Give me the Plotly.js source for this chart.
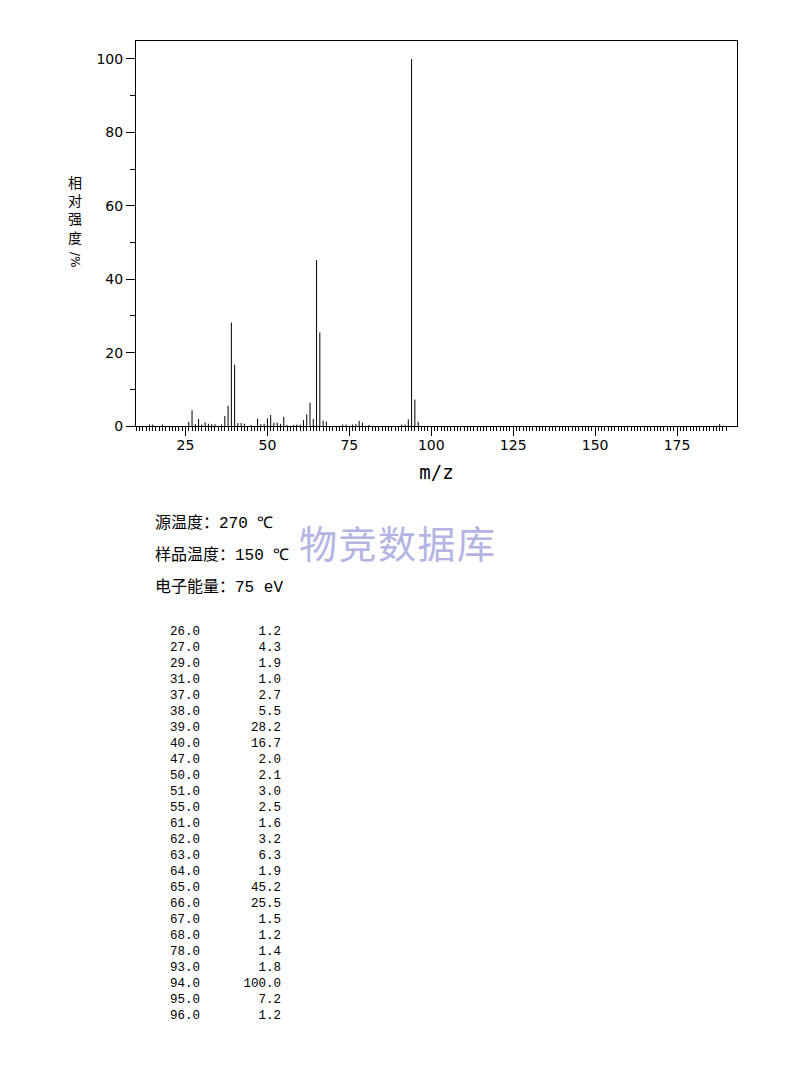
<!DOCTYPE html>
<html>
<head>
<meta charset="utf-8">
<script src="https://cdn.plot.ly/plotly-3.0.1.min.js"></script>
<style>
  html, body { margin: 0; padding: 0; background: #fff; }
  #wrap { position: relative; width: 794px; height: 1077px; overflow: hidden; }
  #chart { position: absolute; left: 0; top: 0; width: 794px; height: 500px; }
  .info { position: absolute; left: 155px; font-family: "Noto Sans CJK SC", "Liberation Mono", monospace; font-size: 16px; color: #000; white-space: pre; line-height: 20px; }
  .info .num { font-family: "Liberation Mono", monospace; }
  #wm { position: absolute; left: 299px; top: 514px; font-family: "Noto Sans CJK SC", sans-serif; font-size: 38px; color: #b4b4e4; letter-spacing: 1.5px; white-space: nowrap; }
  .row { position: absolute; font-family: "Liberation Mono", "DejaVu Sans Mono", monospace; font-size: 12.5px; color: #000; text-align: right; line-height: 14px; }
</style>
</head>
<body>
<div id="wrap">
  <div id="chart"></div>
  <div id="wm">物竞数据库</div>
  <div class="info" style="top:511px;">源温度：<span class="num">270 ℃</span></div>
  <div class="info" style="top:543px;">样品温度：<span class="num">150 ℃</span></div>
  <div class="info" style="top:575px;">电子能量：<span class="num">75 eV</span></div>
  <div id="table"></div>
</div>
<script>
// Peaks listed in the table (m/z, relative intensity %)
const mzTable  = [26, 27, 29, 31, 37, 38, 39, 40, 47, 50, 51, 55, 61, 62, 63, 64, 65, 66, 67, 68, 78, 93, 94, 95, 96];
const intTable = [1.2, 4.3, 1.9, 1.0, 2.7, 5.5, 28.2, 16.7, 2.0, 2.1, 3.0, 2.5, 1.6, 3.2, 6.3, 1.9, 45.2, 25.5, 1.5, 1.2, 1.4, 1.8, 100.0, 7.2, 1.2];

// Small peaks visible in the plot but not listed (estimated)
const mzMinor  = [14, 15, 18, 28, 30, 32, 33, 34, 36, 41, 42, 43, 45, 48, 49, 52, 53, 54, 56, 58, 59, 60, 73, 74, 76, 77, 79, 81, 91, 92, 188];
const intMinor = [0.4, 0.4, 0.4, 0.5, 0.4, 0.6, 0.5, 0.5, 0.4, 0.8, 0.8, 0.6, 0.3, 0.5, 0.6, 0.9, 0.9, 0.6, 0.3, 0.3, 0.4, 0.4, 0.4, 0.4, 0.4, 0.5, 0.9, 0.3, 0.4, 0.4, 0.5];

// Axis ticks
const xMajorTicks = [25, 50, 75, 100, 125, 150, 175];
const xMidTicks = [];
for (let v = 10; v <= 190; v += 5) xMidTicks.push(v);
const xMinorTicks = [];
for (let v = 10; v <= 190; v += 1) xMinorTicks.push(v);
const yTicks = [0, 20, 40, 60, 80, 100];
const yMinorTicks = [10, 30, 50, 70, 90];

// Y-axis title characters (stacked vertically)
const yTitleChars = ["相", "对", "强", "度"];

const allMz = mzTable.concat(mzMinor);
const allInt = intTable.concat(intMinor);
const sx = [], sy = [];
for (let i = 0; i < allMz.length; i++) {
  sx.push(allMz[i], allMz[i], null);
  sy.push(0, allInt[i], null);
}

const XR = [9.9, 193.3];
const YR = [0, 104.9];
const tickFont = { family: "DejaVu Sans, sans-serif", size: 14, color: "#000" };

const traces = [
  { type: "scatter", mode: "lines", x: sx, y: sy, line: { color: "#000", width: 1 }, hoverinfo: "skip", showlegend: false, xaxis: "x", yaxis: "y" },
  { type: "scatter", mode: "lines", x: [null], y: [null], showlegend: false, xaxis: "x2", yaxis: "y", hoverinfo: "skip" }
];

const annX = (75 - 136) / 601;
const annotations = [
  { xref: "paper", yref: "paper", x: annX, y: (426 - 209) / 385, text: yTitleChars.join("<br>"),
    showarrow: false, xanchor: "center", yanchor: "middle", borderpad: 0,
    font: { family: "Noto Sans CJK SC, sans-serif", size: 14, color: "#000" } },
  { xref: "paper", yref: "paper", x: annX, y: (426 - 259) / 385, text: "/%", textangle: 90,
    showarrow: false, xanchor: "center", yanchor: "middle", borderpad: 0,
    font: { family: "DejaVu Sans, sans-serif", size: 12, color: "#000" } }
];

const layout = {
  width: 794, height: 500,
  margin: { l: 136, r: 57, t: 41, b: 74 },
  paper_bgcolor: "#fff", plot_bgcolor: "#fff",
  showlegend: false,
  xaxis: {
    range: XR, showgrid: false, zeroline: false,
    showline: true, linecolor: "#000", linewidth: 1, mirror: true,
    tickmode: "array", tickvals: xMidTicks,
    ticktext: xMidTicks.map(v => (xMajorTicks.indexOf(v) >= 0 ? String(v) : "")),
    ticks: "outside", ticklen: 6, tickwidth: 1, tickcolor: "#000",
    minor: { tickmode: "array", tickvals: xMinorTicks, ticks: "outside", ticklen: 4, tickwidth: 1, tickcolor: "#000" },
    tickfont: tickFont,
    title: { text: "m/z", font: { family: "DejaVu Sans Mono, monospace", size: 19, color: "#000" }, standoff: 13 }
  },
  xaxis2: {
    range: XR, overlaying: "x", anchor: "y", side: "bottom",
    showgrid: false, zeroline: false, showline: false,
    tickmode: "array", tickvals: xMajorTicks, showticklabels: false,
    ticks: "outside", ticklen: 9, tickwidth: 1, tickcolor: "#000"
  },
  yaxis: {
    range: YR, showgrid: false, zeroline: false,
    showline: true, linecolor: "#000", linewidth: 1, mirror: true,
    tickmode: "array", tickvals: yTicks,
    ticks: "outside", ticklen: 9, tickwidth: 1, tickcolor: "#000",
    minor: { tickmode: "array", tickvals: yMinorTicks, ticks: "outside", ticklen: 5, tickwidth: 1, tickcolor: "#000" },
    tickfont: tickFont
  },
  annotations: annotations
};

Plotly.newPlot("chart", traces, layout, { displayModeBar: false, staticPlot: true });

// Peak table below the chart
const tbl = document.getElementById("table");
for (let i = 0; i < mzTable.length; i++) {
  const top = 625 + i * 16;
  const a = document.createElement("div");
  a.className = "row";
  a.style.top = top + "px"; a.style.left = "150px"; a.style.width = "50px";
  a.textContent = mzTable[i].toFixed(1);
  const b = document.createElement("div");
  b.className = "row";
  b.style.top = top + "px"; b.style.left = "220px"; b.style.width = "61px";
  b.textContent = intTable[i].toFixed(1);
  tbl.appendChild(a); tbl.appendChild(b);
}
</script>
</body>
</html>
